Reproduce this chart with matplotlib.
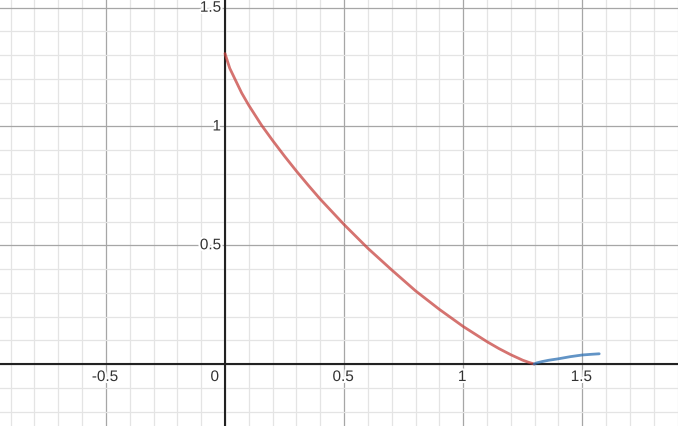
import matplotlib
matplotlib.use("Agg")
import matplotlib.pyplot as plt
import matplotlib.patheffects as pe
from matplotlib.ticker import MultipleLocator

# DATA
red_x = [0.0, 0.02, 0.044, 0.07, 0.1, 0.153, 0.2, 0.25, 0.3, 0.35, 0.4, 0.5,
         0.6, 0.7, 0.8, 0.9, 1.0, 1.1, 1.15, 1.2, 1.25, 1.275, 1.298]
red_y = [1.307, 1.245, 1.195, 1.141, 1.089, 1.006, 0.941, 0.875, 0.812,
         0.752, 0.694, 0.587, 0.487, 0.396, 0.308, 0.230, 0.158, 0.094,
         0.065, 0.039, 0.016, 0.007, 0.0]
blue_x = [1.298, 1.31, 1.33, 1.36, 1.4, 1.45, 1.5, 1.54, 1.571]
blue_y = [0.0, 0.005, 0.010, 0.016, 0.022, 0.031, 0.038, 0.041, 0.043]

x_labels = [-0.5, 0, 0.5, 1, 1.5]
y_labels = [0.5, 1, 1.5]

fig = plt.figure(figsize=(6.78, 4.26), dpi=100)
ax = fig.add_axes([0, 0, 1, 1])
ax.set_xlim(-0.9446, 1.9018)
ax.set_ylim(-0.261, 1.5326)

# grid
ax.xaxis.set_major_locator(MultipleLocator(0.5))
ax.yaxis.set_major_locator(MultipleLocator(0.5))
ax.xaxis.set_minor_locator(MultipleLocator(0.1))
ax.yaxis.set_minor_locator(MultipleLocator(0.1))
ax.grid(which="minor", color="#e4e4e4", lw=0.9)
ax.grid(which="major", color="#a6a6a6", lw=0.9)
ax.tick_params(which="both", length=0, labelbottom=False, labelleft=False)
for s in ax.spines.values():
    s.set_visible(False)
ax.set_axisbelow(True)

ax.axhline(0, color="#222222", lw=1.5, zorder=2)
ax.axvline(0, color="#222222", lw=1.5, zorder=2)

ax.plot(red_x, red_y, color="#c74440", lw=2.0, alpha=0.75, zorder=3,
        solid_capstyle="round", solid_joinstyle="round")
ax.plot(blue_x, blue_y, color="#2d70b3", lw=2.0, alpha=0.75, zorder=3,
        solid_capstyle="round", solid_joinstyle="round")

halo = [pe.withStroke(linewidth=3, foreground="white")]
font = dict(family="Liberation Sans", size=11, color="#333333", zorder=4,
            path_effects=halo)
for v in x_labels:
    lab = f"{v:g}"
    if v == 0:
        ax.annotate(lab, (0, 0), xytext=(-6, -13), textcoords="offset pixels",
                    ha="right", va="center", **font)
    else:
        ax.annotate(lab, (v, 0), xytext=(-1, -13), textcoords="offset pixels",
                    ha="center", va="center", **font)
for v in y_labels:
    ax.annotate(f"{v:g}", (0, v), xytext=(-4, 0), textcoords="offset pixels",
                ha="right", va="center", **font)

fig.savefig("out.png", dpi=100)
